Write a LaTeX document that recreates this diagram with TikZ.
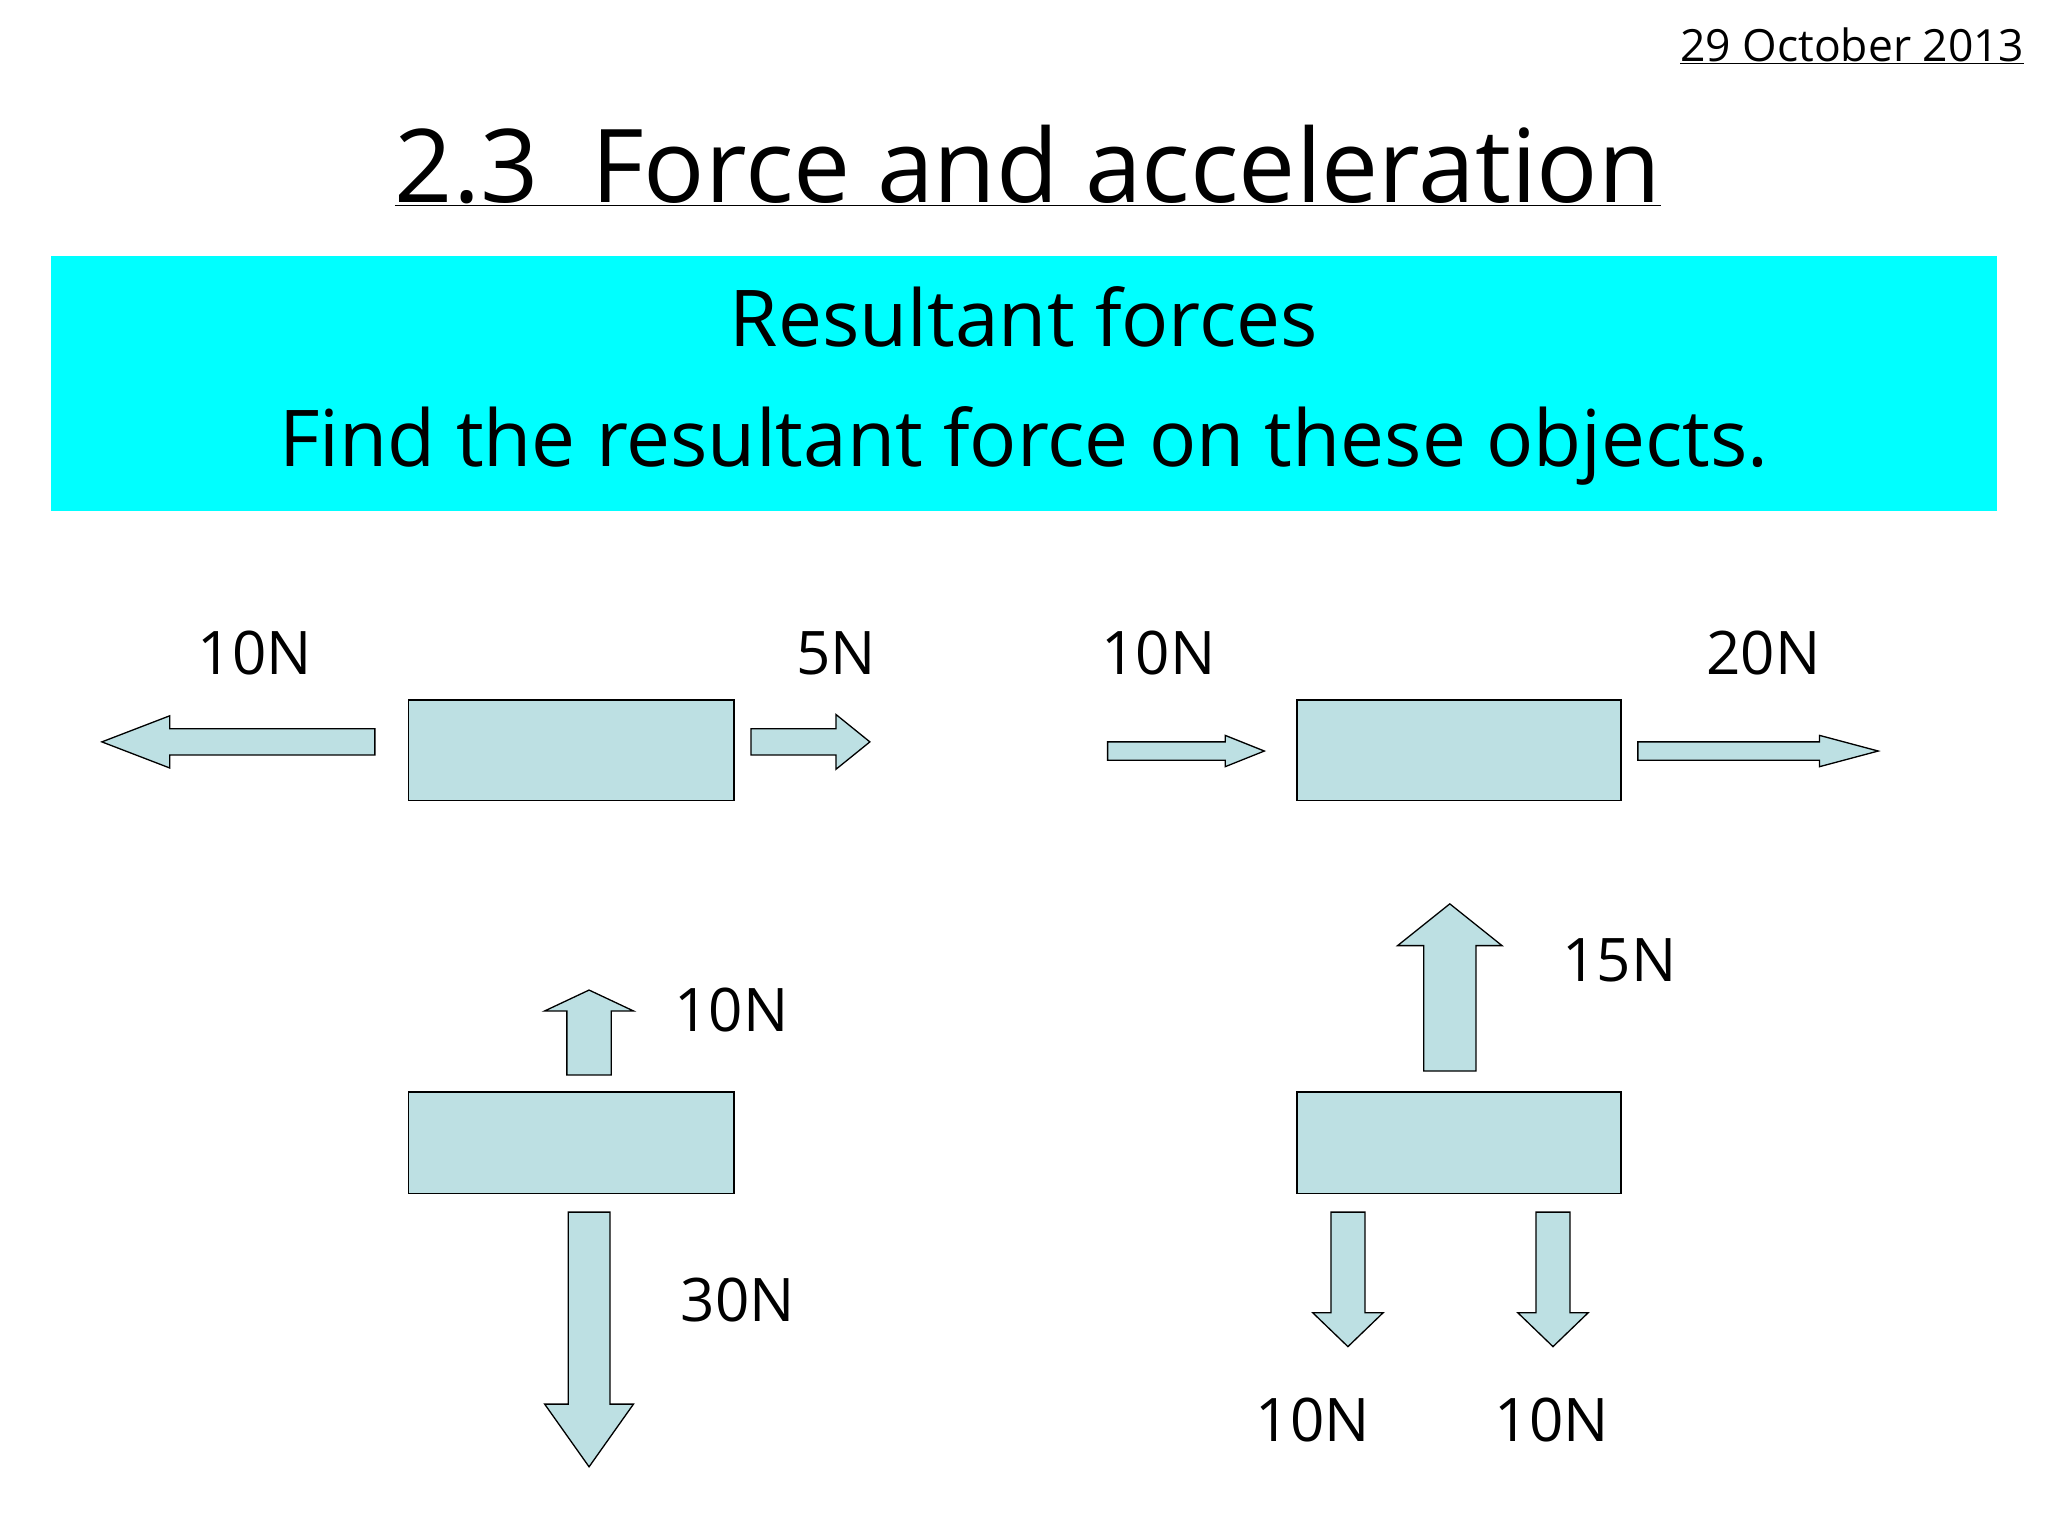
\documentclass[tikz,border=0pt]{standalone}
\usepackage{fontspec}
\setmainfont{Open Sans}
\tikzset{
 blk/.style={draw=black,fill=boxblue,line width=1pt},
 lbl/.style={font=\fontsize{46}{50}\selectfont,inner sep=0pt}
}
\definecolor{boxblue}{HTML}{BDE0E3}
\definecolor{cyanbar}{HTML}{00FFFF}
% horizontal block arrow: start x, tip x, y, shaft half, head half, head length
\newcommand\myHarrow[6]{%
 \pgfmathsetmacro\hb{#2-(#6)*sign(#2-#1)}%
 \draw[blk] (#1,#3-#4) -- (\hb,#3-#4) -- (\hb,#3-#5) -- (#2,#3) -- (\hb,#3+#5) -- (\hb,#3+#4) -- (#1,#3+#4) -- cycle;}
\newcommand\myVarrow[6]{%
 \pgfmathsetmacro\hb{#2-(#6)*sign(#2-#1)}%
 \draw[blk] (#3-#4,#1) -- (#3-#4,\hb) -- (#3-#5,\hb) -- (#3,#2) -- (#3+#5,\hb) -- (#3+#4,\hb) -- (#3+#4,#1) -- cycle;}
\begin{document}
\begin{tikzpicture}[x=1pt,y=-1pt]
\useasboundingbox (0,0) rectangle (1568,1176);
\fill[white] (0,0) rectangle (1568,1176);
\node[anchor=base east,font=\fontsize{34}{38}\selectfont,inner sep=0pt] (date) at (1550,47) {\underline{29 October 2013}};
\node[anchor=base,font=\fontsize{78}{84}\selectfont,inner sep=0pt] (title) at (787,155) {\underline{2.3\ \ Force and acceleration}};
\fill[cyanbar] (39,196) rectangle (1529,391);
\node[anchor=base,font=\fontsize{60}{66}\selectfont,inner sep=0pt] (h1) at (784,265) {Resultant forces};
\node[anchor=base,font=\fontsize{60}{66}\selectfont,inner sep=0pt] (h2) at (784,357) {Find the resultant force on these objects.};
\draw[blk] (313,536) rectangle (562,613);
\draw[blk] (993,536) rectangle (1241,613);
\draw[blk] (313,836) rectangle (562,914);
\draw[blk] (993,836) rectangle (1241,914);
\myHarrow{287}{78}{568}{10}{20}{52}
\myHarrow{575}{666}{568}{10}{21}{26}
\myHarrow{848}{968}{575}{7}{12}{30}
\myHarrow{1254}{1438}{575}{7}{12}{45}
\myVarrow{823}{758}{451}{17}{34}{16}
\myVarrow{928}{1123}{451}{16}{34}{48}
\myVarrow{820}{692}{1110}{20}{40}{32}
\myVarrow{928}{1031}{1032}{13}{27}{26}
\myVarrow{928}{1031}{1189}{13}{27}{26}
\node[lbl] (a) at (195,500) {10N};
\node[lbl] (b) at (640,500) {5N};
\node[lbl] (c) at (887,500) {10N};
\node[lbl] (d) at (1350,500) {20N};
\node[lbl] (e) at (560,773) {10N};
\node[lbl] (f) at (565,995) {30N};
\node[lbl] (g) at (1240,735) {15N};
\node[lbl] (h) at (1005,1087) {10N};
\node[lbl] (i) at (1188,1087) {10N};
\end{tikzpicture}
\end{document}
